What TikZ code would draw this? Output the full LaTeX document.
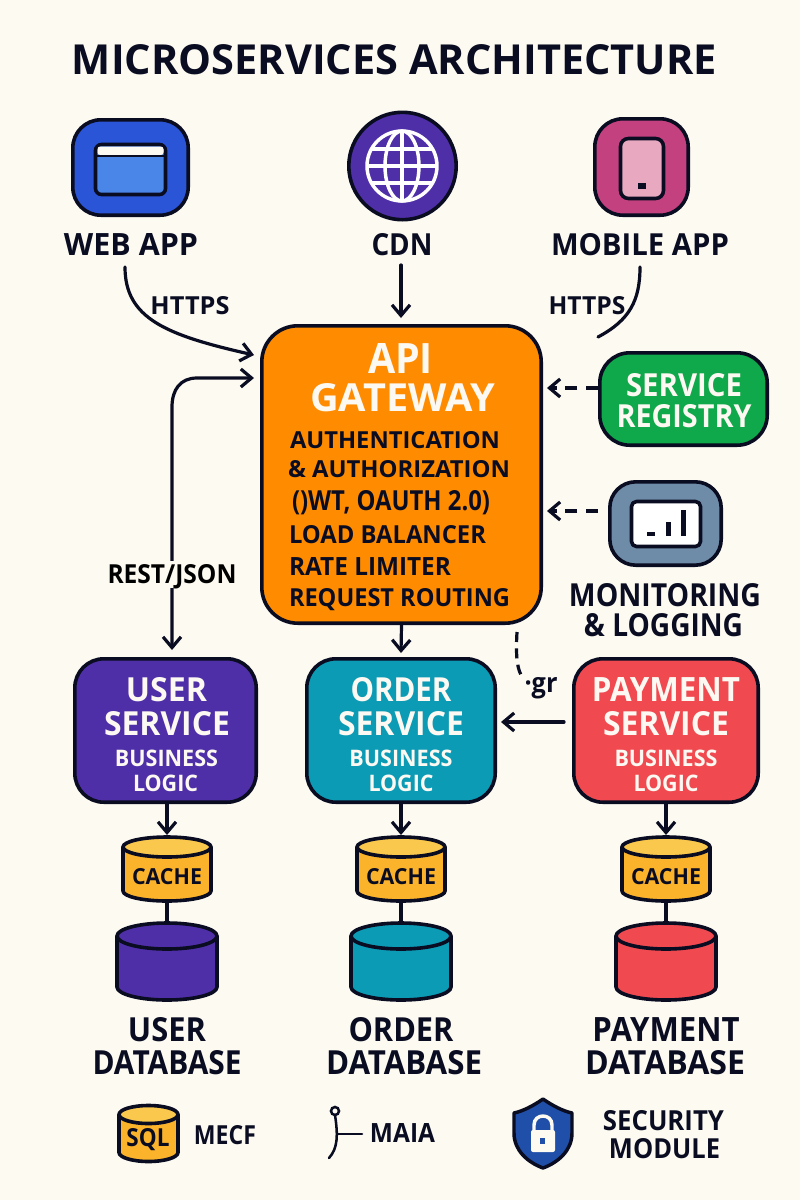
\documentclass[tikz,border=0pt]{standalone}
\usepackage{fontspec}
\usepackage{graphicx}
\setmainfont{Open Sans}
\usetikzlibrary{arrows.meta,calc}
\definecolor{bgc}{HTML}{FDFAF1}
\definecolor{ink}{HTML}{0A0C22}
\definecolor{wht}{HTML}{FCF8F2}
\definecolor{cblue}{HTML}{2A55D6}
\definecolor{cblue2}{HTML}{4A85E8}
\definecolor{cviolet}{HTML}{4F2FA8}
\definecolor{cpink}{HTML}{C4417F}
\definecolor{cpink2}{HTML}{E8A9C0}
\definecolor{corange}{HTML}{FF8C00}
\definecolor{cgreen}{HTML}{0FA84A}
\definecolor{cslate}{HTML}{6E8BA8}
\definecolor{cteal}{HTML}{0B9BB5}
\definecolor{cred}{HTML}{F04A50}
\definecolor{cyel}{HTML}{FBB32C}
\definecolor{cyel2}{HTML}{F9C84D}
\definecolor{cshield}{HTML}{1F4FA8}
\newlength\pxl \setlength\pxl{0.75pt}
\def\px{0.75pt}
\newcommand\fit[3]{\raisebox{0pt}[\height][0pt]{\resizebox{#1\pxl}{#2\pxl}{\bfseries #3}}}
\newcommand\lbl[8][]{\node[lab,text=#7,#1] (#2) at (#3,#4) {\fit{#5}{#6}{#8}};}
\newcommand\cyl[8]{%
  \draw[ol,fill=#7] ({#2-#5},{#3+#6}) -- ({#2-#5},{#4-#6})
    .. controls ({#2-#5},{#4-0.45*#6}) and ({#2-0.55*#5},{#4}) .. ({#2},{#4})
    .. controls ({#2+0.55*#5},{#4}) and ({#2+#5},{#4-0.45*#6}) .. ({#2+#5},{#4-#6})
    -- ({#2+#5},{#3+#6}) -- cycle;
  \draw[ol,fill=#8] ({#2},{#3+#6}) ellipse [x radius=#5, y radius=#6];
  \node[inner sep=0,outer sep=0,minimum width={2*#5*\px},minimum height={(#4-#3)*\px}] (#1) at ({#2},{(#3+#4)/2}) {};
}
\tikzset{
  ol/.style={draw=ink,line width=2.7pt,line join=round},
  lab/.style={inner sep=0,outer sep=0},
  sz/.style 2 args={minimum width={(#1-3.6)*\px},minimum height={(#2-3.6)*\px},inner sep=0},
  boxn/.style={ol,shape=rectangle},
  conn/.style={draw=ink,line width=2.4pt,line cap=round},
  arr/.style={conn,-{Straight Barb[length=8pt,width=13.5pt,line width=2.4pt]}},
  arrb/.style={conn,{Straight Barb[length=8pt,width=13.5pt,line width=2.4pt]}-{Straight Barb[length=8pt,width=13.5pt,line width=2.4pt]}},
  dsh/.style={dash pattern=on 9pt off 6.5pt,line cap=butt},
  rc/.style={rounded corners=#1*\px},
}
\begin{document}
\begin{tikzpicture}[x=0.75pt,y=-0.75pt]
\useasboundingbox (0,0) rectangle (800,1200);
\fill[bgc] (0,0) rectangle (800,1200);
% title
\lbl{title}{394.5}{59}{645}{30}{ink}{MICROSERVICES ARCHITECTURE}
% clients
\node[boxn,fill=cblue,sz={119}{99},rc=28] (web) at (130.5,167.5) {};
\draw[ol,fill=cblue2,rc=6] (95.5,144.5) rectangle (165.5,194.5);
\fill[bgc,rounded corners=2pt] (97.5,146.5) rectangle (163.5,155);
\draw[ink,line width=2.2pt] (96,156) -- (165,156);
\node[ol,shape=circle,fill=cviolet,minimum size={107.4*\px},inner sep=0] (cdn) at (402.5,166) {};
\begin{scope}[draw=white,line width=2.6pt]
\draw (402,166) circle [radius=35];
\draw (402,166) ellipse [x radius=17, y radius=35];
\draw (402,131) -- (402,201);
\draw (367,166) -- (437,166);
\draw (371,149) -- (433,149);
\draw (371,183) -- (433,183);
\end{scope}
\node[boxn,fill=cpink,sz={97}{100},rc=28] (mob) at (641.5,167) {};
\draw[ol,fill=cpink2,rc=8] (620.5,138.5) rectangle (663.5,198.5);
\fill[ink] (638,183) rectangle (646,189);
\lbl{webL}{131}{244}{134}{22}{ink}{WEB APP}
\lbl{cdnL}{402}{244}{61}{22}{ink}{CDN}
\lbl{mobL}{640}{244}{178}{22}{ink}{MOBILE APP}
% gateway
\node[boxn,fill=corange,sz={283}{301},rc=36] (gw) at (401.5,474.5) {};
\lbl{gwA}{400.5}{358}{65}{30}{wht}{API}
\lbl{gwB}{402.5}{397}{185}{28}{wht}{GATEWAY}
\lbl[anchor=west]{gw1}{290}{440}{210}{17}{ink}{AUTHENTICATION}
\lbl[anchor=west]{gw2}{288}{469}{222}{17}{ink}{\& AUTHORIZATION}
\lbl[anchor=west]{gw3}{292}{500}{198}{20}{ink}{()WT, OAUTH 2.0)}
\lbl[anchor=west]{gw4}{289}{534}{197}{18}{ink}{LOAD BALANCER}
\lbl[anchor=west]{gw5}{289}{566}{162}{18}{ink}{RATE LIMITER}
\lbl[anchor=west]{gw6}{289}{597}{221}{18}{ink}{REQUEST ROUTING}
% registry
\node[boxn,fill=cgreen,sz={171}{96},rc=30] (reg) at (683.5,399) {};
\lbl{regA}{684}{385}{116}{23}{wht}{SERVICE}
\lbl{regB}{684}{416}{135}{23}{wht}{REGISTRY}
% monitoring
\node[boxn,fill=cslate,sz={115}{87},rc=26] (mon) at (665.5,523.5) {};
\draw[ol,fill=white,rc=5] (631.5,501.5) rectangle (700.5,546.5);
\fill[ink] (647,532) rectangle (655,536);
\fill[ink] (666,522) rectangle (671,536);
\fill[ink] (681,510) rectangle (686,536);
\lbl{monA}{665}{595}{192}{23}{ink}{MONITORING}
\lbl{monB}{663.5}{625}{159}{23}{ink}{\& LOGGING}
% services
\node[boxn,fill=cviolet,sz={185}{147},rc=29] (usvc) at (165.5,730.5) {};
\node[boxn,fill=cteal,sz={192}{147},rc=29] (osvc) at (401,730.5) {};
\node[boxn,fill=cred,sz={188}{147},rc=29] (psvc) at (666,730.5) {};
\lbl{u1}{166.5}{689}{81}{24}{wht}{USER}
\lbl{u2}{167}{723}{126}{24}{wht}{SERVICE}
\lbl{u3}{166.5}{758}{103}{16.5}{wht}{BUSINESS}
\lbl{u4}{165.5}{783}{65}{16.5}{wht}{LOGIC}
\lbl{o1}{401}{689}{101}{24}{wht}{ORDER}
\lbl{o2}{401}{723}{126}{24}{wht}{SERVICE}
\lbl{o3}{401}{758}{103}{16.5}{wht}{BUSINESS}
\lbl{o4}{401}{783}{65}{16.5}{wht}{LOGIC}
\lbl{p1}{666}{689}{148}{24}{wht}{PAYMENT}
\lbl{p2}{666}{723}{126}{24}{wht}{SERVICE}
\lbl{p3}{666}{758}{103}{16.5}{wht}{BUSINESS}
\lbl{p4}{666}{783}{65}{16.5}{wht}{LOGIC}
% caches and databases
\cyl{uc}{167}{837}{901}{44}{10}{cyel}{cyel2}
\cyl{oc}{401}{837}{901}{44}{10}{cyel}{cyel2}
\cyl{pc}{666}{837}{901}{44}{10}{cyel}{cyel2}
\cyl{ud}{167}{923}{1000}{50}{13}{cviolet}{cviolet}
\cyl{od}{401}{923}{1000}{50}{13}{cteal}{cteal}
\cyl{pd}{666}{923}{1000}{50}{13}{cred}{cred}
\lbl{uct}{167}{876}{70}{16}{ink}{CACHE}
\lbl{oct}{401}{876}{70}{16}{ink}{CACHE}
\lbl{pct}{666}{876}{70}{16}{ink}{CACHE}
\lbl{ud1}{167}{1029}{78}{24}{ink}{USER}
\lbl{ud2}{167}{1062}{149}{24}{ink}{DATABASE}
\lbl{od1}{401}{1029}{105}{24}{ink}{ORDER}
\lbl{od2}{404}{1062}{156}{24}{ink}{DATABASE}
\lbl{pd1}{666}{1029}{147}{24}{ink}{PAYMENT}
\lbl{pd2}{665}{1062}{160}{24}{ink}{DATABASE}
% connector end points
\coordinate (gwWeb) at ($(gw.west)+(-6,-119.5)$);
\coordinate (gwRest) at ($(gw.west)+(-6,-96.5)$);
\coordinate (restEnd) at (172,650);
\coordinate (mobEnd) at (598,337);
\coordinate (grEnd) at (521,675);
\coordinate (webS) at (125,267);
\coordinate (mobS) at (640,267);
% connectors
\draw[arr] (webS) .. controls (125,318) and (165,335) .. (gwWeb);
\draw[conn] (mobS) .. controls (640,300) and (630,320) .. (mobEnd);
\draw[arr] ($(cdnL.south)+(-1,10)$) -- ($(gw.north)+(-0.5,-6)$);
\draw[arrb] (gwRest) -- (197,378) .. controls (180,378) and (172,390) .. (172,407) -- (restEnd);
\node[lab,fill=bgc,inner xsep=2pt,inner ysep=3pt] (rest) at (172,574) {\fit{129}{19}{REST/JSON}};
\node[lab,text=ink] (httpsL) at (190,305) {\fit{79}{18}{HTTPS}};
\node[lab,text=ink] (httpsR) at (587,305) {\fit{77}{18}{HTTPS}};
\draw[arr,dsh] (reg.west) ++(0,-11) -- ($(gw.east)+(4,-86.5)$);
\draw[arr,dsh] (598,511) -- ($(gw.east)+(4,36.5)$);
\draw[arr] (gw.south) -- ($(osvc.north)+(0,-4)$);
\draw[arr] ($(psvc.west)+(-8,-8.5)$) -- ($(osvc.east)+(4,-8.5)$);
\draw[conn,dash pattern=on 7.5pt off 4.8pt,line cap=butt] (517,632) .. controls (516,650) and (516,665) .. (grEnd);
\lbl{gr}{541}{685}{33}{15}{ink}{·gr}
\draw[arr] (usvc.south -| uc.north) -- ($(uc.north)+(0,-2)$);
\draw[arr] (osvc.south -| oc.north) -- ($(oc.north)+(0,-2)$);
\draw[arr] (psvc.south -| pc.north) -- ($(pc.north)+(0,-2)$);
\draw[conn,line cap=butt] (uc.south) -- (ud.north);
\draw[conn,line cap=butt] (oc.south) -- (od.north);
\draw[conn,line cap=butt] (pc.south) -- (pd.north);
% legend
\cyl{sqlc}{148.5}{1105.5}{1161.5}{29.5}{9}{cyel}{cyel2}
\lbl{sqlT}{148}{1137}{43}{18}{ink}{SQL}
\lbl{mecf}{225}{1135}{62}{19}{ink}{MECF}
\coordinate (mapT) at (335,1115);
\draw[conn,line width=1.9pt] (335,1111) circle [radius=4];
\draw[conn,line width=1.9pt] (mapT) .. controls (338,1135) and (338,1148) .. (329,1158);
\draw[conn,line width=1.9pt] (337,1134) -- (362,1134);
\lbl{maia}{402.5}{1133}{65}{19}{ink}{MAIA}
\draw[ol,fill=cshield,line width=2.6pt] (543,1099) .. controls (533,1106) and (523,1111) .. (514,1113)
  -- (514,1133) .. controls (514,1150) and (527,1162) .. (543,1168)
  .. controls (559,1162) and (572,1150) .. (572,1133) -- (572,1113)
  .. controls (563,1111) and (553,1106) .. (543,1099) -- cycle;
\draw[bgc,line width=2.6pt] (534,1131) -- (534,1125) .. controls (534,1113) and (552,1113) .. (552,1125) -- (552,1131);
\fill[bgc,rounded corners=1.5pt] (531,1130) rectangle (555,1152);
\fill[cshield] (540,1138) rectangle (545,1144);
\lbl{sec1}{663.5}{1120}{121}{20}{ink}{SECURITY}
\lbl{sec2}{664.5}{1148}{111}{20}{ink}{MODULE}
\end{tikzpicture}
\end{document}
